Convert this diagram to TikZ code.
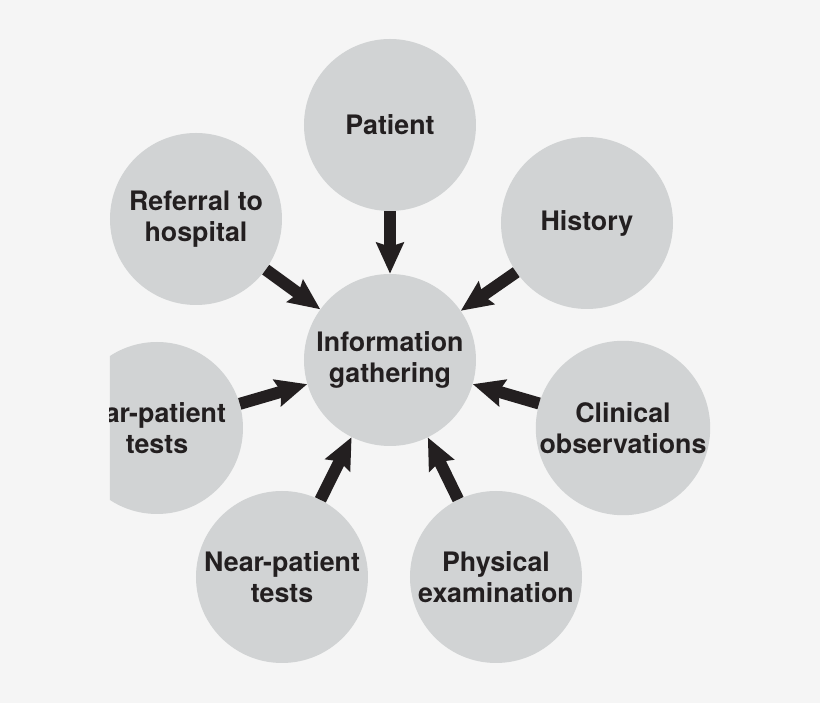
\documentclass[tikz,border=0pt]{standalone}
\usepackage{fontspec}
\setmainfont{TeX Gyre Heros}
\usepackage{xcolor}
\usepackage{tikz}
\usetikzlibrary{arrows.meta}
\definecolor{bggray}{HTML}{F5F5F5}
\definecolor{discgray}{HTML}{D1D3D4}
\definecolor{inkblack}{HTML}{231F20}
\tikzset{
  disc/.style={circle, fill=discgray, minimum size=172pt, inner sep=0pt, align=center,
    text=inkblack, font=\bfseries\fontsize{26.8}{31.5}\selectfont},
  feed/.style={-{Stealth[length=31pt, width=27pt, inset=4pt]}, line width=12pt, draw=inkblack},
}
\begin{document}
\begin{tikzpicture}[x=1pt, y=1pt]
  \fill[bggray] (-390,-343) rectangle (430,360);
  \useasboundingbox (-390,-343) rectangle (430,360);
  \clip (-280,-343) rectangle (430,360);
  \node[disc] (info) at (0,0) {Information\\gathering};
  \node[disc] (pat) at (0,235) {Patient};
  \node[disc] (hist) at (197,137) {History};
  \node[disc] (clin) at (233,-68) {Clinical\\observations};
  \node[disc] (phys) at (106,-217) {Physical\\examination};
  \node[disc] (near) at (-108,-217) {Near-patient\\tests};
  \node[disc] (nearb) at (-233,-68) {\hspace*{-18pt}Near-patient\\tests};
  \node[disc] (ref) at (-194,141) {Referral to\\hospital};
  % arrows into the middle
  \foreach \src in {pat,hist,clin,phys,near,nearb,ref}
    \draw[feed] (\src) -- (info);
\end{tikzpicture}
\end{document}
